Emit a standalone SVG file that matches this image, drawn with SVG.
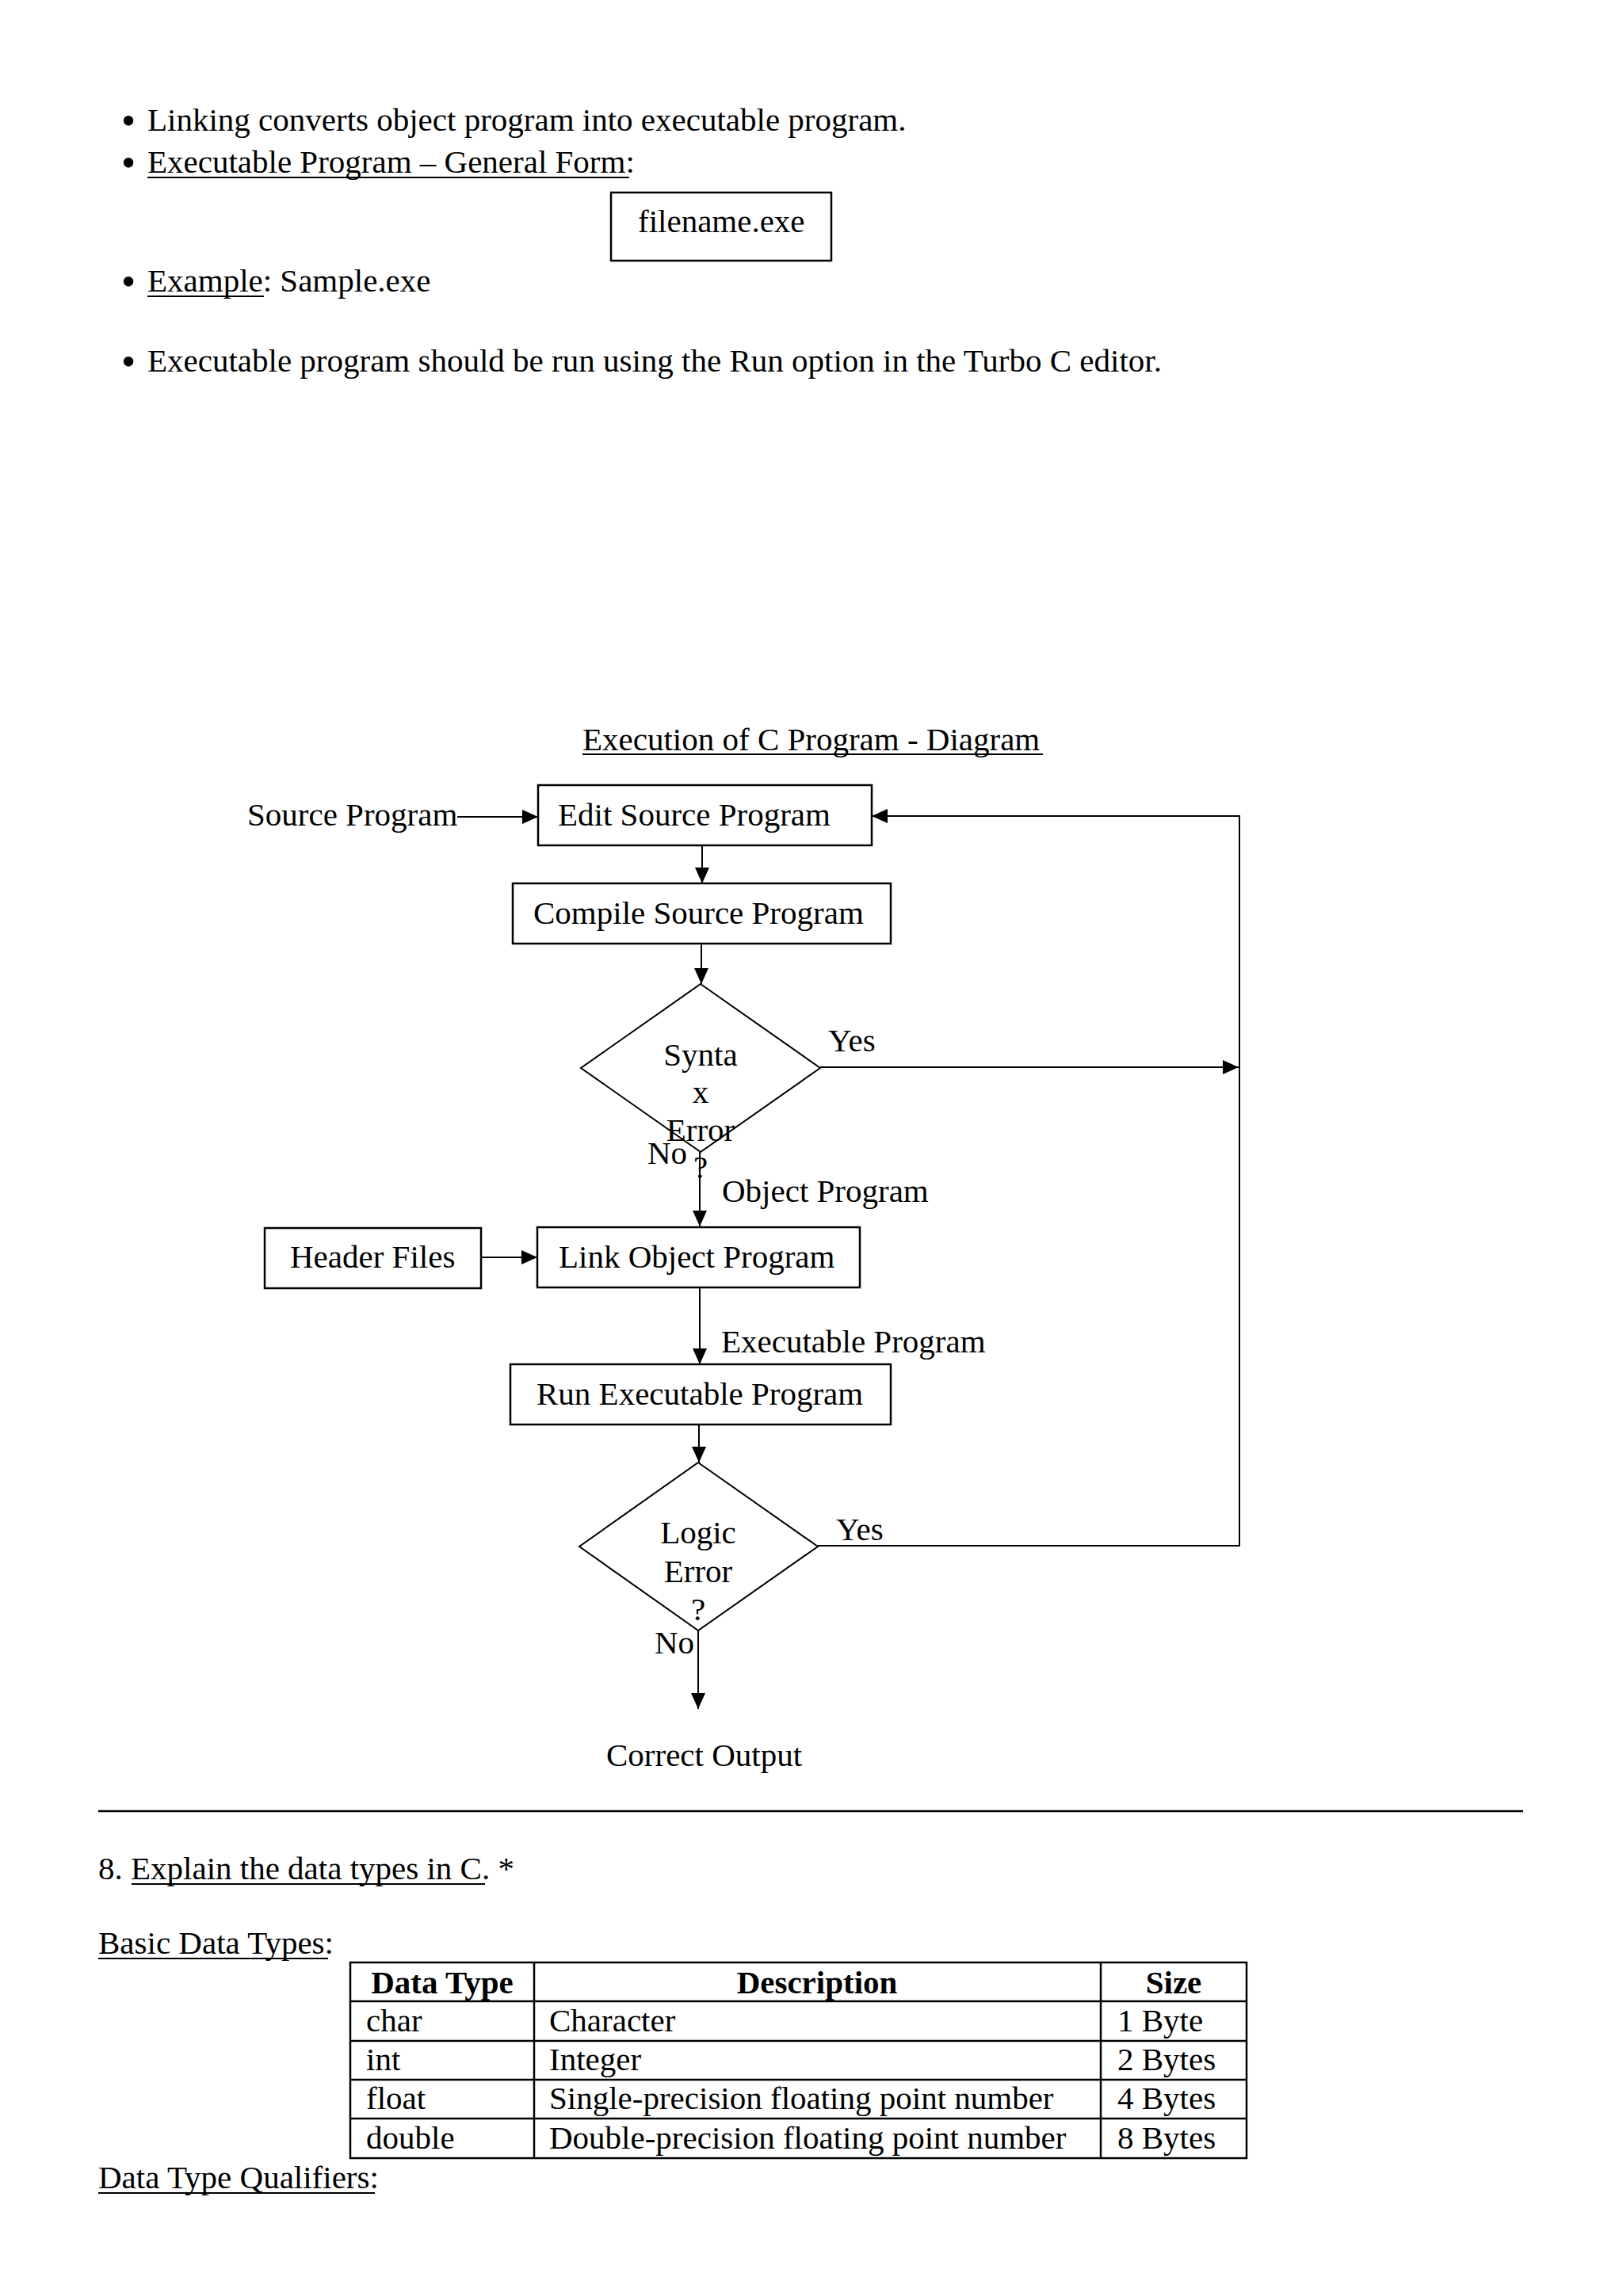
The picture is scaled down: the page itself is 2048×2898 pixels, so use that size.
<svg xmlns="http://www.w3.org/2000/svg" width="2048" height="2898" viewBox="0 0 2048 2898">
<style>
text { font-family: 'Liberation Serif','Times New Roman',serif; font-size: 41px; fill: #000; }
.b { font-weight: bold; }
.mid { text-anchor: middle; }
.bul { font-size: 52px; text-anchor: middle; }
.box { fill: none; stroke: #000; stroke-width: 2.5; }
.dia { fill: none; stroke: #000; stroke-width: 2; }
.ul { stroke: #000; stroke-width: 2; }
.conn { fill: none; stroke: #000; stroke-width: 2; }
.tbl { stroke: #000; stroke-width: 2.5; fill: none; }
</style>
<defs>
<marker id="ah" markerUnits="userSpaceOnUse" markerWidth="20" markerHeight="18" refX="20" refY="9" orient="auto"><path d="M0,0 L20,9 L0,18 Z" fill="#000"/></marker>
</defs>
<rect width="2048" height="2898" fill="#fff"/>

<g id="intro">
<text class="bul" x="162" y="170">•</text>
<text x="186" y="165">Linking converts object program into executable program.</text>
<text class="bul" x="162" y="223">•</text>
<text x="186" y="218">Executable Program – General Form:</text>
<line class="ul" x1="186" y1="224" x2="794" y2="224"/>
<g id="filename-box">
<rect class="box" x="771" y="243" width="278" height="86"/>
<text x="805" y="293">filename.exe</text>
</g>
<text class="bul" x="162" y="373">•</text>
<text x="186" y="368">Example: Sample.exe</text>
<line class="ul" x1="186" y1="374" x2="333" y2="374"/>
<text class="bul" x="162" y="474">•</text>
<text x="186" y="469">Executable program should be run using the Run option in the Turbo C editor.</text>
</g>

<g id="title">
<text x="735" y="947">Execution of C Program - Diagram</text>
<line class="ul" x1="735" y1="952" x2="1316" y2="952"/>
</g>

<g id="connectors">
<line class="conn" x1="577" y1="1031" x2="679" y2="1031" marker-end="url(#ah)"/>
<line class="conn" x1="886" y1="1067" x2="886" y2="1115" marker-end="url(#ah)"/>
<line class="conn" x1="885" y1="1191" x2="885" y2="1242" marker-end="url(#ah)"/>
<line class="conn" x1="1035" y1="1347" x2="1563" y2="1347" marker-end="url(#ah)"/>
<line class="conn" x1="883" y1="1454" x2="883" y2="1548" marker-end="url(#ah)"/>
<line class="conn" x1="607" y1="1587" x2="678" y2="1587" marker-end="url(#ah)"/>
<line class="conn" x1="883" y1="1625" x2="883" y2="1722" marker-end="url(#ah)"/>
<line class="conn" x1="882" y1="1798" x2="882" y2="1846" marker-end="url(#ah)"/>
<polyline class="conn" points="1032,1951 1564,1951 1564,1030 1100,1030" marker-end="url(#ah)"/>
<line class="conn" x1="881" y1="2058" x2="881" y2="2157" marker-end="url(#ah)"/>
</g>

<g id="source-program">
<text x="312" y="1042">Source Program</text>
</g>
<g id="edit">
<rect class="box" x="679" y="991" width="421" height="76"/>
<text x="704" y="1042">Edit Source Program</text>
</g>
<g id="compile">
<rect class="box" x="647" y="1115" width="477" height="76"/>
<text x="673" y="1166">Compile Source Program</text>
</g>
<g id="syntax-error">
<polygon class="dia" points="884,1242 1035,1348 884,1454 733,1348"/>
<text class="mid" x="884" y="1345">Synta</text>
<text class="mid" x="884" y="1392">x</text>
<text class="mid" x="884" y="1440">Error</text>
<text class="mid" x="884" y="1487">?</text>
</g>
<text x="1045" y="1327">Yes</text>
<text x="817" y="1469">No</text>
<text x="911" y="1517">Object Program</text>
<g id="header-files">
<rect class="box" x="334" y="1550" width="273" height="76"/>
<text x="366" y="1600">Header Files</text>
</g>
<g id="link">
<rect class="box" x="678" y="1549" width="407" height="76"/>
<text x="705" y="1600">Link Object Program</text>
</g>
<text x="910" y="1707">Executable Program</text>
<g id="run">
<rect class="box" x="644" y="1722" width="480" height="76"/>
<text x="677" y="1773">Run Executable Program</text>
</g>
<g id="logic-error">
<polygon class="dia" points="881,1846 1032,1952 881,2058 731,1952"/>
<text class="mid" x="881" y="1948">Logic</text>
<text class="mid" x="881" y="1997">Error</text>
<text class="mid" x="881" y="2045">?</text>
</g>
<text x="1055" y="1944">Yes</text>
<text x="826" y="2087">No</text>
<g id="correct-output">
<text x="765" y="2229">Correct Output</text>
</g>

<line x1="124" y1="2286" x2="1922" y2="2286" stroke="#000" stroke-width="2.5"/>

<g id="section8">
<text x="124" y="2372">8. Explain the data types in C. *</text>
<line class="ul" x1="166" y1="2378" x2="612" y2="2378"/>
<text x="124" y="2466">Basic Data Types:</text>
<line class="ul" x1="124" y1="2472" x2="414" y2="2472"/>
</g>

<g id="table">
<rect class="tbl" x="442" y="2477" width="1131" height="247"/>
<line class="tbl" x1="674" y1="2477" x2="674" y2="2724"/>
<line class="tbl" x1="1389" y1="2477" x2="1389" y2="2724"/>
<line class="tbl" x1="442" y1="2526" x2="1573" y2="2526"/>
<line class="tbl" x1="442" y1="2576" x2="1573" y2="2576"/>
<line class="tbl" x1="442" y1="2625" x2="1573" y2="2625"/>
<line class="tbl" x1="442" y1="2674" x2="1573" y2="2674"/>
<text class="b mid" x="558" y="2516">Data Type</text>
<text class="b mid" x="1031" y="2516">Description</text>
<text class="b mid" x="1481" y="2516">Size</text>
<text x="462" y="2564">char</text>
<text x="693" y="2564">Character</text>
<text x="1410" y="2564">1 Byte</text>
<text x="462" y="2613">int</text>
<text x="693" y="2613">Integer</text>
<text x="1410" y="2613">2 Bytes</text>
<text x="462" y="2662">float</text>
<text x="693" y="2662">Single-precision floating point number</text>
<text x="1410" y="2662">4 Bytes</text>
<text x="462" y="2712">double</text>
<text x="693" y="2712">Double-precision floating point number</text>
<text x="1410" y="2712">8 Bytes</text>
</g>

<g id="qualifiers">
<text x="124" y="2762">Data Type Qualifiers:</text>
<line class="ul" x1="124" y1="2768" x2="473" y2="2768"/>
</g>
</svg>
